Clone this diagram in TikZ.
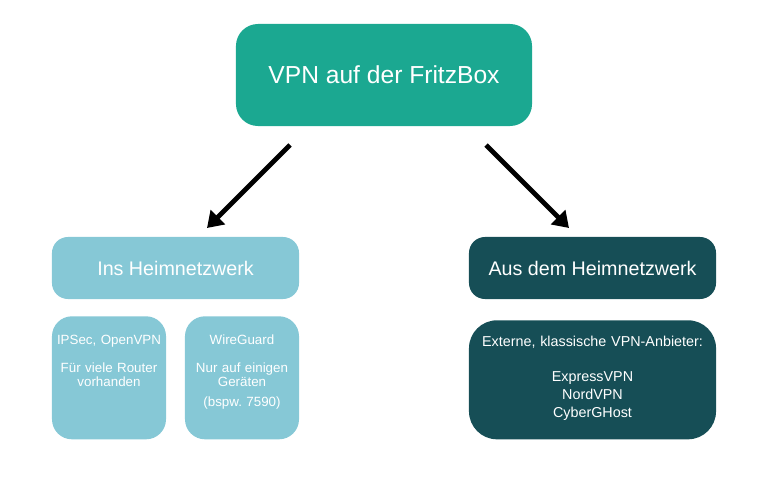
\documentclass[tikz,border=0pt]{standalone}
\usepackage{fontspec}
\setmainfont{Liberation Sans}
\usepackage{tikz}
\usetikzlibrary{arrows.meta,positioning}
\definecolor{fritzgreen}{HTML}{1BA891}
\definecolor{homeblue}{HTML}{86C8D6}
\definecolor{darkteal}{HTML}{164E56}

\begin{document}
\begin{tikzpicture}[
  x=0.025cm, y=-0.025cm,
  vbox/.style={fill=#1, text=white, align=center, inner sep=0pt},
  headbox/.style={vbox=#1, minimum width=6.175cm, minimum height=1.55cm, rounded corners=0.4cm, font=\fontsize{14}{17}\selectfont},
  infobox/.style={vbox=homeblue, anchor=north, text width=2.8cm, inner xsep=0.025cm, text height=0.7cm, text depth=2.375cm, rounded corners=0.5cm, font=\fontsize{9.5}{10}\selectfont},
  flow/.style={-{Triangle[length=11pt,width=14pt]}, line width=3.5pt, black}
]
  \useasboundingbox (0,0) rectangle (768,480);

  \node[vbox=fritzgreen, minimum width=7.4cm, minimum height=2.55cm, rounded corners=0.55cm, font=\fontsize{17.5}{21}\selectfont] (fritz) at (384,75) {VPN auf der FritzBox};

  \node[headbox=homeblue] (ins) at (175.5,268) {Ins Heimnetzwerk};
  \node[headbox=darkteal] (aus) at (592.5,268) {Aus dem Heimnetzwerk};

  \node[infobox] (ipsec) at (109,316) {IPSec, OpenVPN\\[\baselineskip]F\"ur viele Router\\vorhanden};
  \node[infobox] (wg) at (242,316) {WireGuard\\[\baselineskip]Nur auf einigen\\Ger\"aten\\[4pt](bspw.\ 7590)};
  \node[vbox=darkteal, anchor=north, text width=6.075cm, inner xsep=0.05cm, text height=0.65cm, text depth=2.325cm, rounded corners=0.7cm, font=\fontsize{10.2}{12.6}\selectfont] (extern) at (592.5,320) {Externe, klassische VPN-Anbieter:\\[\baselineskip]ExpressVPN\\NordVPN\\CyberGHost};

  % arrows
  \coordinate (l0) at (290,145);
  \coordinate (l1) at (207,228);
  \coordinate (r0) at (486,145);
  \coordinate (r1) at (569,228);
  \draw[flow] (l0) -- (l1);
  \draw[flow] (r0) -- (r1);
\end{tikzpicture}
\end{document}
